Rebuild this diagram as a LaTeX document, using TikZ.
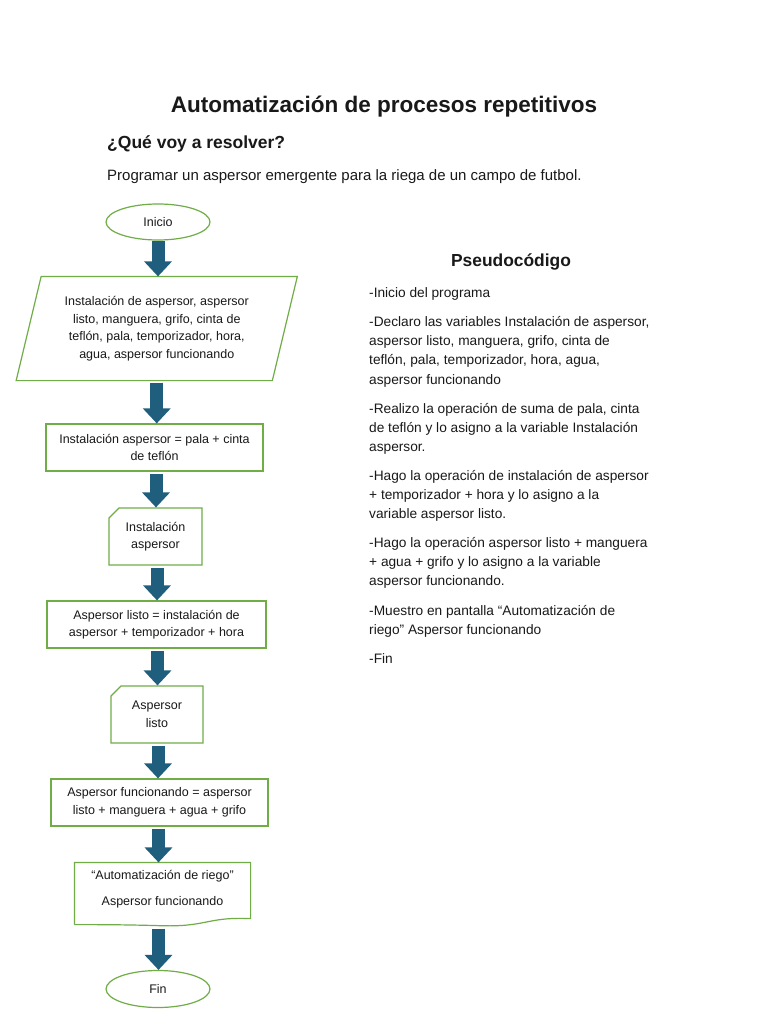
\documentclass[tikz,border=0pt]{standalone}
\usepackage{fontspec}
\setmainfont{Liberation Sans}
\usetikzlibrary{arrows.meta,positioning,shapes.geometric,shapes.misc,calc}
\definecolor{flowgreen}{RGB}{112,173,71}
\definecolor{arrowblue}{RGB}{31,94,124}
\definecolor{inkgray}{RGB}{25,25,25}
\tikzset{
  box/.style={draw=flowgreen, line width=1.2pt, align=center, fill=white, text=inkgray,
    inner sep=0pt, font=\fontsize{12.5}{17.5}\selectfont},
  term/.style={box, ellipse, minimum width=104pt, minimum height=36pt},
  proc/.style={box, rectangle, minimum width=217pt, minimum height=47pt},
  card/.style={box, chamfered rectangle, chamfered rectangle corners=north west,
    chamfered rectangle sep=5pt, minimum width=93pt, minimum height=57pt},
  ghost/.style={box, draw=none, fill=none},
  outline/.style={draw=flowgreen, line width=1.2pt},
  flow/.style={arrowblue, line width=13pt, -{Triangle[width=27pt,length=15pt]}},
}

\begin{document}
\begin{tikzpicture}[x=1pt,y=-1pt]
    % Page
    \fill[white] (0,0) rectangle (768,1024);
    \useasboundingbox (0,0) rectangle (768,1024);

    % Heading
    \node[font=\fontsize{22.5}{26}\selectfont\bfseries, text=inkgray] (titulo) at (384,107)
      {Automatización de procesos repetitivos};
    \node[font=\fontsize{17.5}{21}\selectfont\bfseries, text=inkgray, anchor=west, inner sep=0pt] (pregunta) at (107,144)
      {¿Qué voy a resolver?};
    \node[font=\fontsize{15}{18}\selectfont, text=inkgray, anchor=west, inner sep=0pt] (problema) at (107,177)
      {Programar un aspersor emergente para la riega de un campo de futbol.};

    % Flowchart shapes
    \node[term] (inicio) at (158,222) {Inicio};

    \node[ghost, minimum width=255pt, minimum height=103pt] (datos) at (156.75,328.5)
      {Instalación de aspersor, aspersor\\listo, manguera, grifo, cinta de\\teflón, pala, temporizador, hora,\\agua, aspersor funcionando};
    \draw[outline] ($(datos.north west)+(12.5,0)$) -- ($(datos.north east)+(12.5,0)$)
      -- ($(datos.south east)+(-12.5,0)$) -- ($(datos.south west)+(-12.5,0)$) -- cycle;

    \node[proc] (suma1) at (154.5,447.5) {Instalación aspersor = pala + cinta\\de teflón};
    \node[card] (res1) at (155.5,536.5) {Instalación\\aspersor};
    \node[proc, minimum width=219pt] (suma2) at (156.5,624.5) {Aspersor listo = instalación de\\aspersor + temporizador + hora};
    \node[card, minimum width=92pt] (res2) at (157,714.5) {Aspersor\\listo};
    \node[proc] (suma3) at (159.5,802.5) {Aspersor funcionando = aspersor\\listo + manguera + agua + grifo};

    \node[ghost, minimum width=175pt, minimum height=52pt] (pantalla) at (162.5,889)
      {“Automatización de riego”\\[8.5pt]Aspersor funcionando};
    \draw[outline] ($(pantalla.south west)+(0,9)$) -- (pantalla.north west) -- (pantalla.north east)
      -- ($(pantalla.south east)+(0,3)$) .. controls +(-45,-2) and +(50,2) .. ($(pantalla.south)+(-5,10)$)
      .. controls +(-35,-1) and +(20,0) .. ($(pantalla.south west)+(0,9)$);

    \node[term, minimum height=37pt] (fin) at (158,989) {Fin};

    % Arrows
    \draw[flow] (inicio.south) -- (inicio.south |- datos.north);
    \draw[flow] ($(datos.south)+(0,2)$) -- (datos.south |- suma1.north);
    \draw[flow] ($(suma1.south)+(1.5,2)$) -- ($(suma1.south |- res1.north)+(1.5,0)$);
    \draw[flow] ($(res1.south)+(1.5,2)$) -- ($(res1.south |- suma2.north)+(1.5,0)$);
    \draw[flow] ($(suma2.south)+(1,2)$) -- ($(suma2.south |- res2.north)+(1,0)$);
    \draw[flow] ($(res2.south)+(1,2)$) -- ($(res2.south |- suma3.north)+(1,0)$);
    \draw[flow] ($(suma3.south)+(-1,2)$) -- ($(suma3.south |- pantalla.north)+(-1,0)$);
    \draw[flow] ($(pantalla.south)+(-4,13)$) -- ($(pantalla.south |- fin.north)+(-4,0)$);

    % Pseudocode
    \node[font=\fontsize{17.4}{21}\selectfont\bfseries, text=inkgray] (pseudo) at (511,262) {Pseudocódigo};
    \node[font=\fontsize{13.7}{19.1}\selectfont, text=inkgray, align=left, anchor=north west, inner sep=0pt] (pasos) at (369,287.5)
      {-Inicio del programa\\[10pt]
       -Declaro las variables Instalación de aspersor,\\
       aspersor listo, manguera, grifo, cinta de\\
       teflón, pala, temporizador, hora, agua,\\
       aspersor funcionando\\[10pt]
       -Realizo la operación de suma de pala, cinta\\
       de teflón y lo asigno a la variable Instalación\\
       aspersor.\\[10pt]
       -Hago la operación de instalación de aspersor\\
       + temporizador + hora y lo asigno a la\\
       variable aspersor listo.\\[10pt]
       -Hago la operación aspersor listo + manguera\\
       + agua + grifo y lo asigno a la variable\\
       aspersor funcionando.\\[10pt]
       -Muestro en pantalla “Automatización de\\
       riego” Aspersor funcionando\\[10pt]
       -Fin};
\end{tikzpicture}
\end{document}
